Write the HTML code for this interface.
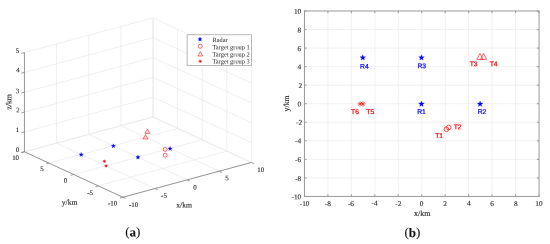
<!DOCTYPE html>
<html><head><meta charset="utf-8"><title>Figure</title><style>html,body{margin:0;padding:0;background:#fff;width:550px;height:244px;overflow:hidden;}svg{display:block;}</style></head>
<body>
<svg width="550" height="244" viewBox="0 0 550 244">
<line x1="122.85" y1="197.22" x2="24.45" y2="151.78" stroke="#e8e8e8" stroke-width="0.7"/>
<line x1="122.85" y1="197.22" x2="251.45" y2="162.47" stroke="#e8e8e8" stroke-width="0.7"/>
<line x1="155.00" y1="188.54" x2="56.60" y2="143.09" stroke="#e8e8e8" stroke-width="0.7"/>
<line x1="98.25" y1="185.86" x2="226.85" y2="151.11" stroke="#e8e8e8" stroke-width="0.7"/>
<line x1="187.15" y1="179.85" x2="88.75" y2="134.40" stroke="#e8e8e8" stroke-width="0.7"/>
<line x1="73.65" y1="174.50" x2="202.25" y2="139.75" stroke="#e8e8e8" stroke-width="0.7"/>
<line x1="219.30" y1="171.16" x2="120.90" y2="125.71" stroke="#e8e8e8" stroke-width="0.7"/>
<line x1="49.05" y1="163.14" x2="177.65" y2="128.39" stroke="#e8e8e8" stroke-width="0.7"/>
<line x1="251.45" y1="162.47" x2="153.05" y2="117.03" stroke="#e8e8e8" stroke-width="0.7"/>
<line x1="24.45" y1="151.78" x2="153.05" y2="117.03" stroke="#e8e8e8" stroke-width="0.7"/>
<line x1="24.45" y1="151.78" x2="24.45" y2="52.58" stroke="#e8e8e8" stroke-width="0.7"/>
<line x1="56.60" y1="143.09" x2="56.60" y2="43.89" stroke="#e8e8e8" stroke-width="0.7"/>
<line x1="88.75" y1="134.40" x2="88.75" y2="35.20" stroke="#e8e8e8" stroke-width="0.7"/>
<line x1="120.90" y1="125.71" x2="120.90" y2="26.51" stroke="#e8e8e8" stroke-width="0.7"/>
<line x1="153.05" y1="117.03" x2="153.05" y2="17.83" stroke="#e8e8e8" stroke-width="0.7"/>
<line x1="24.45" y1="151.78" x2="153.05" y2="117.03" stroke="#e8e8e8" stroke-width="0.7"/>
<line x1="24.45" y1="131.94" x2="153.05" y2="97.19" stroke="#e8e8e8" stroke-width="0.7"/>
<line x1="24.45" y1="112.09" x2="153.05" y2="77.34" stroke="#e8e8e8" stroke-width="0.7"/>
<line x1="24.45" y1="92.26" x2="153.05" y2="57.51" stroke="#e8e8e8" stroke-width="0.7"/>
<line x1="24.45" y1="72.42" x2="153.05" y2="37.67" stroke="#e8e8e8" stroke-width="0.7"/>
<line x1="24.45" y1="52.58" x2="153.05" y2="17.83" stroke="#e8e8e8" stroke-width="0.7"/>
<line x1="251.45" y1="162.47" x2="251.45" y2="63.27" stroke="#e8e8e8" stroke-width="0.7"/>
<line x1="226.85" y1="151.11" x2="226.85" y2="51.91" stroke="#e8e8e8" stroke-width="0.7"/>
<line x1="202.25" y1="139.75" x2="202.25" y2="40.55" stroke="#e8e8e8" stroke-width="0.7"/>
<line x1="177.65" y1="128.39" x2="177.65" y2="29.19" stroke="#e8e8e8" stroke-width="0.7"/>
<line x1="153.05" y1="117.03" x2="153.05" y2="17.83" stroke="#e8e8e8" stroke-width="0.7"/>
<line x1="251.45" y1="162.47" x2="153.05" y2="117.03" stroke="#e8e8e8" stroke-width="0.7"/>
<line x1="251.45" y1="142.63" x2="153.05" y2="97.19" stroke="#e8e8e8" stroke-width="0.7"/>
<line x1="251.45" y1="122.79" x2="153.05" y2="77.34" stroke="#e8e8e8" stroke-width="0.7"/>
<line x1="251.45" y1="102.95" x2="153.05" y2="57.51" stroke="#e8e8e8" stroke-width="0.7"/>
<line x1="251.45" y1="83.11" x2="153.05" y2="37.67" stroke="#e8e8e8" stroke-width="0.7"/>
<line x1="251.45" y1="63.27" x2="153.05" y2="17.83" stroke="#e8e8e8" stroke-width="0.7"/>
<line x1="24.45" y1="151.78" x2="24.45" y2="52.58" stroke="#808080" stroke-width="0.8"/>
<line x1="122.85" y1="197.22" x2="24.45" y2="151.78" stroke="#808080" stroke-width="0.8"/>
<line x1="122.85" y1="197.22" x2="251.45" y2="162.47" stroke="#808080" stroke-width="0.8"/>
<line x1="24.45" y1="151.78" x2="21.36" y2="152.61" stroke="#808080" stroke-width="0.8"/>
<line x1="24.45" y1="131.94" x2="21.36" y2="132.77" stroke="#808080" stroke-width="0.8"/>
<line x1="24.45" y1="112.09" x2="21.36" y2="112.93" stroke="#808080" stroke-width="0.8"/>
<line x1="24.45" y1="92.26" x2="21.36" y2="93.09" stroke="#808080" stroke-width="0.8"/>
<line x1="24.45" y1="72.42" x2="21.36" y2="73.25" stroke="#808080" stroke-width="0.8"/>
<line x1="24.45" y1="52.58" x2="21.36" y2="53.41" stroke="#808080" stroke-width="0.8"/>
<line x1="122.85" y1="197.22" x2="119.96" y2="198.01" stroke="#808080" stroke-width="0.8"/>
<line x1="122.85" y1="197.22" x2="125.56" y2="198.47" stroke="#808080" stroke-width="0.8"/>
<line x1="98.25" y1="185.86" x2="95.36" y2="186.64" stroke="#808080" stroke-width="0.8"/>
<line x1="155.00" y1="188.54" x2="157.71" y2="189.79" stroke="#808080" stroke-width="0.8"/>
<line x1="73.65" y1="174.50" x2="70.76" y2="175.28" stroke="#808080" stroke-width="0.8"/>
<line x1="187.15" y1="179.85" x2="189.86" y2="181.10" stroke="#808080" stroke-width="0.8"/>
<line x1="49.05" y1="163.14" x2="46.16" y2="163.92" stroke="#808080" stroke-width="0.8"/>
<line x1="219.30" y1="171.16" x2="222.01" y2="172.41" stroke="#808080" stroke-width="0.8"/>
<line x1="24.45" y1="151.78" x2="21.56" y2="152.56" stroke="#808080" stroke-width="0.8"/>
<line x1="251.45" y1="162.47" x2="254.16" y2="163.72" stroke="#808080" stroke-width="0.8"/>
<polygon points="137.95,155.12 138.49,156.58 140.04,156.65 138.83,157.61 139.24,159.10 137.95,158.25 136.66,159.10 137.07,157.61 135.86,156.65 137.41,156.58" fill="#0000ff" stroke="#0000ff" stroke-width="0.3"/>
<polygon points="170.10,146.44 170.64,147.89 172.19,147.96 170.98,148.92 171.39,150.42 170.10,149.56 168.81,150.42 169.22,148.92 168.01,147.96 169.56,147.89" fill="#0000ff" stroke="#0000ff" stroke-width="0.3"/>
<polygon points="113.35,143.76 113.89,145.21 115.44,145.28 114.23,146.25 114.64,147.74 113.35,146.89 112.06,147.74 112.47,146.25 111.26,145.28 112.81,145.21" fill="#0000ff" stroke="#0000ff" stroke-width="0.3"/>
<polygon points="81.20,152.45 81.74,153.90 83.29,153.97 82.08,154.94 82.49,156.43 81.20,155.57 79.91,156.43 80.32,154.94 79.11,153.97 80.66,153.90" fill="#0000ff" stroke="#0000ff" stroke-width="0.3"/>
<circle cx="165.20" cy="149.40" r="2.0" fill="none" stroke="#ff0000" stroke-width="0.6"/>
<circle cx="165.20" cy="155.20" r="2.0" fill="none" stroke="#ff0000" stroke-width="0.6"/>
<polygon points="147.40,129.05 149.80,133.35 145.00,133.35" fill="none" stroke="#ff0000" stroke-width="0.6"/>
<polygon points="145.50,134.65 147.90,138.95 143.10,138.95" fill="none" stroke="#ff0000" stroke-width="0.6"/>
<line x1="102.80" y1="161.30" x2="106.00" y2="161.30" stroke="#ff0000" stroke-width="0.7"/>
<line x1="103.27" y1="160.17" x2="105.53" y2="162.43" stroke="#ff0000" stroke-width="0.7"/>
<line x1="104.40" y1="159.70" x2="104.40" y2="162.90" stroke="#ff0000" stroke-width="0.7"/>
<line x1="105.53" y1="160.17" x2="103.27" y2="162.43" stroke="#ff0000" stroke-width="0.7"/>
<line x1="104.50" y1="165.90" x2="107.70" y2="165.90" stroke="#ff0000" stroke-width="0.7"/>
<line x1="104.97" y1="164.77" x2="107.23" y2="167.03" stroke="#ff0000" stroke-width="0.7"/>
<line x1="106.10" y1="164.30" x2="106.10" y2="167.50" stroke="#ff0000" stroke-width="0.7"/>
<line x1="107.23" y1="164.77" x2="104.97" y2="167.03" stroke="#ff0000" stroke-width="0.7"/>
<rect x="187.1" y="34.8" width="64.4" height="30.8" fill="#fff" stroke="#999" stroke-width="0.7"/>
<polygon points="200.00,37.10 200.54,38.55 202.09,38.62 200.88,39.59 201.29,41.08 200.00,40.22 198.71,41.08 199.12,39.59 197.91,38.62 199.46,38.55" fill="#0000ff" stroke="#0000ff" stroke-width="0.3"/>
<circle cx="200.30" cy="46.30" r="2.0" fill="none" stroke="#ff0000" stroke-width="0.6"/>
<polygon points="200.30,51.65 202.70,55.95 197.90,55.95" fill="none" stroke="#ff0000" stroke-width="0.6"/>
<line x1="198.70" y1="61.30" x2="201.90" y2="61.30" stroke="#ff0000" stroke-width="0.7"/>
<line x1="199.17" y1="60.17" x2="201.43" y2="62.43" stroke="#ff0000" stroke-width="0.7"/>
<line x1="200.30" y1="59.70" x2="200.30" y2="62.90" stroke="#ff0000" stroke-width="0.7"/>
<line x1="201.43" y1="60.17" x2="199.17" y2="62.43" stroke="#ff0000" stroke-width="0.7"/>
<line x1="327.91" y1="196.45" x2="327.91" y2="11.00" stroke="#ebebeb" stroke-width="0.7"/>
<line x1="304.45" y1="177.90" x2="539.05" y2="177.90" stroke="#ebebeb" stroke-width="0.7"/>
<line x1="351.37" y1="196.45" x2="351.37" y2="11.00" stroke="#ebebeb" stroke-width="0.7"/>
<line x1="304.45" y1="159.36" x2="539.05" y2="159.36" stroke="#ebebeb" stroke-width="0.7"/>
<line x1="374.83" y1="196.45" x2="374.83" y2="11.00" stroke="#ebebeb" stroke-width="0.7"/>
<line x1="304.45" y1="140.81" x2="539.05" y2="140.81" stroke="#ebebeb" stroke-width="0.7"/>
<line x1="398.29" y1="196.45" x2="398.29" y2="11.00" stroke="#ebebeb" stroke-width="0.7"/>
<line x1="304.45" y1="122.27" x2="539.05" y2="122.27" stroke="#ebebeb" stroke-width="0.7"/>
<line x1="421.75" y1="196.45" x2="421.75" y2="11.00" stroke="#ebebeb" stroke-width="0.7"/>
<line x1="304.45" y1="103.72" x2="539.05" y2="103.72" stroke="#ebebeb" stroke-width="0.7"/>
<line x1="445.21" y1="196.45" x2="445.21" y2="11.00" stroke="#ebebeb" stroke-width="0.7"/>
<line x1="304.45" y1="85.18" x2="539.05" y2="85.18" stroke="#ebebeb" stroke-width="0.7"/>
<line x1="468.67" y1="196.45" x2="468.67" y2="11.00" stroke="#ebebeb" stroke-width="0.7"/>
<line x1="304.45" y1="66.63" x2="539.05" y2="66.63" stroke="#ebebeb" stroke-width="0.7"/>
<line x1="492.13" y1="196.45" x2="492.13" y2="11.00" stroke="#ebebeb" stroke-width="0.7"/>
<line x1="304.45" y1="48.09" x2="539.05" y2="48.09" stroke="#ebebeb" stroke-width="0.7"/>
<line x1="515.59" y1="196.45" x2="515.59" y2="11.00" stroke="#ebebeb" stroke-width="0.7"/>
<line x1="304.45" y1="29.54" x2="539.05" y2="29.54" stroke="#ebebeb" stroke-width="0.7"/>
<rect x="304.45" y="11.0" width="234.60" height="185.45" fill="none" stroke="#9a9a9a" stroke-width="1"/>
<line x1="304.45" y1="196.45" x2="304.45" y2="194.25" stroke="#9a9a9a" stroke-width="1"/>
<line x1="304.45" y1="11.00" x2="304.45" y2="13.20" stroke="#9a9a9a" stroke-width="1"/>
<line x1="304.45" y1="196.45" x2="306.65" y2="196.45" stroke="#9a9a9a" stroke-width="1"/>
<line x1="539.05" y1="196.45" x2="536.85" y2="196.45" stroke="#9a9a9a" stroke-width="1"/>
<line x1="327.91" y1="196.45" x2="327.91" y2="194.25" stroke="#9a9a9a" stroke-width="1"/>
<line x1="327.91" y1="11.00" x2="327.91" y2="13.20" stroke="#9a9a9a" stroke-width="1"/>
<line x1="304.45" y1="177.90" x2="306.65" y2="177.90" stroke="#9a9a9a" stroke-width="1"/>
<line x1="539.05" y1="177.90" x2="536.85" y2="177.90" stroke="#9a9a9a" stroke-width="1"/>
<line x1="351.37" y1="196.45" x2="351.37" y2="194.25" stroke="#9a9a9a" stroke-width="1"/>
<line x1="351.37" y1="11.00" x2="351.37" y2="13.20" stroke="#9a9a9a" stroke-width="1"/>
<line x1="304.45" y1="159.36" x2="306.65" y2="159.36" stroke="#9a9a9a" stroke-width="1"/>
<line x1="539.05" y1="159.36" x2="536.85" y2="159.36" stroke="#9a9a9a" stroke-width="1"/>
<line x1="374.83" y1="196.45" x2="374.83" y2="194.25" stroke="#9a9a9a" stroke-width="1"/>
<line x1="374.83" y1="11.00" x2="374.83" y2="13.20" stroke="#9a9a9a" stroke-width="1"/>
<line x1="304.45" y1="140.81" x2="306.65" y2="140.81" stroke="#9a9a9a" stroke-width="1"/>
<line x1="539.05" y1="140.81" x2="536.85" y2="140.81" stroke="#9a9a9a" stroke-width="1"/>
<line x1="398.29" y1="196.45" x2="398.29" y2="194.25" stroke="#9a9a9a" stroke-width="1"/>
<line x1="398.29" y1="11.00" x2="398.29" y2="13.20" stroke="#9a9a9a" stroke-width="1"/>
<line x1="304.45" y1="122.27" x2="306.65" y2="122.27" stroke="#9a9a9a" stroke-width="1"/>
<line x1="539.05" y1="122.27" x2="536.85" y2="122.27" stroke="#9a9a9a" stroke-width="1"/>
<line x1="421.75" y1="196.45" x2="421.75" y2="194.25" stroke="#9a9a9a" stroke-width="1"/>
<line x1="421.75" y1="11.00" x2="421.75" y2="13.20" stroke="#9a9a9a" stroke-width="1"/>
<line x1="304.45" y1="103.72" x2="306.65" y2="103.72" stroke="#9a9a9a" stroke-width="1"/>
<line x1="539.05" y1="103.72" x2="536.85" y2="103.72" stroke="#9a9a9a" stroke-width="1"/>
<line x1="445.21" y1="196.45" x2="445.21" y2="194.25" stroke="#9a9a9a" stroke-width="1"/>
<line x1="445.21" y1="11.00" x2="445.21" y2="13.20" stroke="#9a9a9a" stroke-width="1"/>
<line x1="304.45" y1="85.18" x2="306.65" y2="85.18" stroke="#9a9a9a" stroke-width="1"/>
<line x1="539.05" y1="85.18" x2="536.85" y2="85.18" stroke="#9a9a9a" stroke-width="1"/>
<line x1="468.67" y1="196.45" x2="468.67" y2="194.25" stroke="#9a9a9a" stroke-width="1"/>
<line x1="468.67" y1="11.00" x2="468.67" y2="13.20" stroke="#9a9a9a" stroke-width="1"/>
<line x1="304.45" y1="66.63" x2="306.65" y2="66.63" stroke="#9a9a9a" stroke-width="1"/>
<line x1="539.05" y1="66.63" x2="536.85" y2="66.63" stroke="#9a9a9a" stroke-width="1"/>
<line x1="492.13" y1="196.45" x2="492.13" y2="194.25" stroke="#9a9a9a" stroke-width="1"/>
<line x1="492.13" y1="11.00" x2="492.13" y2="13.20" stroke="#9a9a9a" stroke-width="1"/>
<line x1="304.45" y1="48.09" x2="306.65" y2="48.09" stroke="#9a9a9a" stroke-width="1"/>
<line x1="539.05" y1="48.09" x2="536.85" y2="48.09" stroke="#9a9a9a" stroke-width="1"/>
<line x1="515.59" y1="196.45" x2="515.59" y2="194.25" stroke="#9a9a9a" stroke-width="1"/>
<line x1="515.59" y1="11.00" x2="515.59" y2="13.20" stroke="#9a9a9a" stroke-width="1"/>
<line x1="304.45" y1="29.54" x2="306.65" y2="29.54" stroke="#9a9a9a" stroke-width="1"/>
<line x1="539.05" y1="29.54" x2="536.85" y2="29.54" stroke="#9a9a9a" stroke-width="1"/>
<line x1="539.05" y1="196.45" x2="539.05" y2="194.25" stroke="#9a9a9a" stroke-width="1"/>
<line x1="539.05" y1="11.00" x2="539.05" y2="13.20" stroke="#9a9a9a" stroke-width="1"/>
<line x1="304.45" y1="11.00" x2="306.65" y2="11.00" stroke="#9a9a9a" stroke-width="1"/>
<line x1="539.05" y1="11.00" x2="536.85" y2="11.00" stroke="#9a9a9a" stroke-width="1"/>
<polygon points="421.45,101.07 422.18,103.02 424.26,103.11 422.63,104.41 423.18,106.41 421.45,105.26 419.72,106.41 420.27,104.41 418.64,103.11 420.72,103.02" fill="#0000ff" stroke="#0000ff" stroke-width="0.3"/>
<polygon points="480.10,101.07 480.83,103.02 482.91,103.11 481.28,104.41 481.83,106.41 480.10,105.26 478.37,106.41 478.92,104.41 477.29,103.11 479.37,103.02" fill="#0000ff" stroke="#0000ff" stroke-width="0.3"/>
<polygon points="421.45,54.71 422.18,56.66 424.26,56.75 422.63,58.05 423.18,60.05 421.45,58.90 419.72,60.05 420.27,58.05 418.64,56.75 420.72,56.66" fill="#0000ff" stroke="#0000ff" stroke-width="0.3"/>
<polygon points="362.80,54.71 363.53,56.66 365.61,56.75 363.98,58.05 364.53,60.05 362.80,58.90 361.07,60.05 361.62,58.05 359.99,56.75 362.07,56.66" fill="#0000ff" stroke="#0000ff" stroke-width="0.3"/>
<circle cx="446.40" cy="129.30" r="2.3" fill="none" stroke="#ff0000" stroke-width="0.7"/>
<circle cx="448.70" cy="127.50" r="2.3" fill="none" stroke="#ff0000" stroke-width="0.7"/>
<polygon points="480.00,53.40 483.10,59.40 476.90,59.40" fill="none" stroke="#ff0000" stroke-width="0.6"/>
<polygon points="483.60,53.40 486.70,59.40 480.50,59.40" fill="none" stroke="#ff0000" stroke-width="0.6"/>
<line x1="357.50" y1="103.90" x2="362.70" y2="103.90" stroke="#ff0000" stroke-width="0.55"/>
<line x1="358.26" y1="102.06" x2="361.94" y2="105.74" stroke="#ff0000" stroke-width="0.55"/>
<line x1="360.10" y1="101.30" x2="360.10" y2="106.50" stroke="#ff0000" stroke-width="0.55"/>
<line x1="361.94" y1="102.06" x2="358.26" y2="105.74" stroke="#ff0000" stroke-width="0.55"/>
<line x1="360.40" y1="103.90" x2="365.60" y2="103.90" stroke="#ff0000" stroke-width="0.55"/>
<line x1="361.16" y1="102.06" x2="364.84" y2="105.74" stroke="#ff0000" stroke-width="0.55"/>
<line x1="363.00" y1="101.30" x2="363.00" y2="106.50" stroke="#ff0000" stroke-width="0.55"/>
<line x1="364.84" y1="102.06" x2="361.16" y2="105.74" stroke="#ff0000" stroke-width="0.55"/>
<text id="t0" x="17.40" y="149.60" font-size="6.9" fill="#262626" stroke="#262626" stroke-width="0.12" text-anchor="middle" dominant-baseline="central" font-family="Liberation Serif, serif" transform="rotate(0.05 17.40 149.60)">0</text>
<text id="t1" x="17.40" y="129.50" font-size="6.9" fill="#262626" stroke="#262626" stroke-width="0.12" text-anchor="middle" dominant-baseline="central" font-family="Liberation Serif, serif" transform="rotate(0.05 17.40 129.50)">1</text>
<text id="t2" x="17.90" y="109.80" font-size="6.9" fill="#262626" stroke="#262626" stroke-width="0.12" text-anchor="middle" dominant-baseline="central" font-family="Liberation Serif, serif" transform="rotate(0.05 17.90 109.80)">2</text>
<text id="t3" x="17.40" y="90.80" font-size="6.9" fill="#262626" stroke="#262626" stroke-width="0.12" text-anchor="middle" dominant-baseline="central" font-family="Liberation Serif, serif" transform="rotate(0.05 17.40 90.80)">3</text>
<text id="t4" x="17.90" y="69.80" font-size="6.9" fill="#262626" stroke="#262626" stroke-width="0.12" text-anchor="middle" dominant-baseline="central" font-family="Liberation Serif, serif" transform="rotate(0.05 17.90 69.80)">4</text>
<text id="t5" x="17.40" y="50.30" font-size="6.9" fill="#262626" stroke="#262626" stroke-width="0.12" text-anchor="middle" dominant-baseline="central" font-family="Liberation Serif, serif" transform="rotate(0.05 17.40 50.30)">5</text>
<text id="t6" x="15.60" y="157.60" font-size="6.9" fill="#262626" stroke="#262626" stroke-width="0.12" text-anchor="middle" dominant-baseline="central" font-family="Liberation Serif, serif" transform="rotate(0.05 15.60 157.60)">10</text>
<text id="t7" x="42.00" y="168.40" font-size="6.9" fill="#262626" stroke="#262626" stroke-width="0.12" text-anchor="middle" dominant-baseline="central" font-family="Liberation Serif, serif" transform="rotate(0.05 42.00 168.40)">5</text>
<text id="t8" x="65.50" y="180.20" font-size="6.9" fill="#262626" stroke="#262626" stroke-width="0.12" text-anchor="middle" dominant-baseline="central" font-family="Liberation Serif, serif" transform="rotate(0.05 65.50 180.20)">0</text>
<text id="t9" x="90.10" y="192.50" font-size="6.9" fill="#262626" stroke="#262626" stroke-width="0.12" text-anchor="middle" dominant-baseline="central" font-family="Liberation Serif, serif" transform="rotate(0.05 90.10 192.50)">-5</text>
<text id="t10" x="112.50" y="202.90" font-size="6.9" fill="#262626" stroke="#262626" stroke-width="0.12" text-anchor="middle" dominant-baseline="central" font-family="Liberation Serif, serif" transform="rotate(0.05 112.50 202.90)">-10</text>
<text id="t11" x="133.50" y="204.50" font-size="6.9" fill="#262626" stroke="#262626" stroke-width="0.12" text-anchor="middle" dominant-baseline="central" font-family="Liberation Serif, serif" transform="rotate(0.05 133.50 204.50)">-10</text>
<text id="t12" x="164.00" y="195.30" font-size="6.9" fill="#262626" stroke="#262626" stroke-width="0.12" text-anchor="middle" dominant-baseline="central" font-family="Liberation Serif, serif" transform="rotate(0.05 164.00 195.30)">-5</text>
<text id="t13" x="194.90" y="186.90" font-size="6.9" fill="#262626" stroke="#262626" stroke-width="0.12" text-anchor="middle" dominant-baseline="central" font-family="Liberation Serif, serif" transform="rotate(0.05 194.90 186.90)">0</text>
<text id="t14" x="227.00" y="177.70" font-size="6.9" fill="#262626" stroke="#262626" stroke-width="0.12" text-anchor="middle" dominant-baseline="central" font-family="Liberation Serif, serif" transform="rotate(0.05 227.00 177.70)">5</text>
<text id="t15" x="260.80" y="169.50" font-size="6.9" fill="#262626" stroke="#262626" stroke-width="0.12" text-anchor="middle" dominant-baseline="central" font-family="Liberation Serif, serif" transform="rotate(0.05 260.80 169.50)">10</text>
<text id="t16" x="69.70" y="202.30" font-size="7.7" fill="#262626" stroke="#262626" stroke-width="0.12" text-anchor="middle" dominant-baseline="central" font-family="Liberation Serif, serif" transform="rotate(0.05 69.70 202.30)">y/km</text>
<text id="t17" x="184.20" y="205.00" font-size="7.7" fill="#262626" stroke="#262626" stroke-width="0.12" text-anchor="middle" dominant-baseline="central" font-family="Liberation Serif, serif" transform="rotate(0.05 184.20 205.00)">x/km</text>
<text id="t18" x="8.80" y="101.90" font-size="7.7" fill="#262626" stroke="#262626" stroke-width="0.12" text-anchor="middle" dominant-baseline="central" font-family="Liberation Serif, serif" transform="rotate(-89.95 8.80 101.90)">z/km</text>
<text id="t19" x="301.20" y="196.80" font-size="7.3" fill="#262626" stroke="#262626" stroke-width="0.12" text-anchor="end" dominant-baseline="central" font-family="Liberation Serif, serif" transform="rotate(0.05 301.20 196.80)">-10</text>
<text id="t20" x="304.60" y="203.60" font-size="7.3" fill="#262626" stroke="#262626" stroke-width="0.12" text-anchor="middle" dominant-baseline="central" font-family="Liberation Serif, serif" transform="rotate(0.05 304.60 203.60)">-10</text>
<text id="t21" x="301.20" y="178.40" font-size="7.3" fill="#262626" stroke="#262626" stroke-width="0.12" text-anchor="end" dominant-baseline="central" font-family="Liberation Serif, serif" transform="rotate(0.05 301.20 178.40)">-8</text>
<text id="t22" x="327.78" y="203.60" font-size="7.3" fill="#262626" stroke="#262626" stroke-width="0.12" text-anchor="middle" dominant-baseline="central" font-family="Liberation Serif, serif" transform="rotate(0.05 327.78 203.60)">-8</text>
<text id="t23" x="301.20" y="159.58" font-size="7.3" fill="#262626" stroke="#262626" stroke-width="0.12" text-anchor="end" dominant-baseline="central" font-family="Liberation Serif, serif" transform="rotate(0.05 301.20 159.58)">-6</text>
<text id="t24" x="350.96" y="203.60" font-size="7.3" fill="#262626" stroke="#262626" stroke-width="0.12" text-anchor="middle" dominant-baseline="central" font-family="Liberation Serif, serif" transform="rotate(0.05 350.96 203.60)">-6</text>
<text id="t25" x="301.20" y="140.75" font-size="7.3" fill="#262626" stroke="#262626" stroke-width="0.12" text-anchor="end" dominant-baseline="central" font-family="Liberation Serif, serif" transform="rotate(0.05 301.20 140.75)">-4</text>
<text id="t26" x="374.64" y="203.10" font-size="7.3" fill="#262626" stroke="#262626" stroke-width="0.12" text-anchor="middle" dominant-baseline="central" font-family="Liberation Serif, serif" transform="rotate(0.05 374.64 203.10)">-4</text>
<text id="t27" x="302.20" y="122.36" font-size="7.3" fill="#262626" stroke="#262626" stroke-width="0.12" text-anchor="end" dominant-baseline="central" font-family="Liberation Serif, serif" transform="rotate(0.05 302.20 122.36)">-2</text>
<text id="t28" x="398.32" y="203.60" font-size="7.3" fill="#262626" stroke="#262626" stroke-width="0.12" text-anchor="middle" dominant-baseline="central" font-family="Liberation Serif, serif" transform="rotate(0.05 398.32 203.60)">-2</text>
<text id="t29" x="301.20" y="103.97" font-size="7.3" fill="#262626" stroke="#262626" stroke-width="0.12" text-anchor="end" dominant-baseline="central" font-family="Liberation Serif, serif" transform="rotate(0.05 301.20 103.97)">0</text>
<text id="t30" x="421.50" y="203.60" font-size="7.3" fill="#262626" stroke="#262626" stroke-width="0.12" text-anchor="middle" dominant-baseline="central" font-family="Liberation Serif, serif" transform="rotate(0.05 421.50 203.60)">0</text>
<text id="t31" x="302.20" y="85.64" font-size="7.3" fill="#262626" stroke="#262626" stroke-width="0.12" text-anchor="end" dominant-baseline="central" font-family="Liberation Serif, serif" transform="rotate(0.05 302.20 85.64)">2</text>
<text id="t32" x="445.18" y="203.60" font-size="7.3" fill="#262626" stroke="#262626" stroke-width="0.12" text-anchor="middle" dominant-baseline="central" font-family="Liberation Serif, serif" transform="rotate(0.05 445.18 203.60)">2</text>
<text id="t33" x="301.20" y="66.74" font-size="7.3" fill="#262626" stroke="#262626" stroke-width="0.12" text-anchor="end" dominant-baseline="central" font-family="Liberation Serif, serif" transform="rotate(0.05 301.20 66.74)">4</text>
<text id="t34" x="468.86" y="203.10" font-size="7.3" fill="#262626" stroke="#262626" stroke-width="0.12" text-anchor="middle" dominant-baseline="central" font-family="Liberation Serif, serif" transform="rotate(0.05 468.86 203.10)">4</text>
<text id="t35" x="301.20" y="48.42" font-size="7.3" fill="#262626" stroke="#262626" stroke-width="0.12" text-anchor="end" dominant-baseline="central" font-family="Liberation Serif, serif" transform="rotate(0.05 301.20 48.42)">6</text>
<text id="t36" x="492.04" y="203.60" font-size="7.3" fill="#262626" stroke="#262626" stroke-width="0.12" text-anchor="middle" dominant-baseline="central" font-family="Liberation Serif, serif" transform="rotate(0.05 492.04 203.60)">6</text>
<text id="t37" x="301.20" y="30.02" font-size="7.3" fill="#262626" stroke="#262626" stroke-width="0.12" text-anchor="end" dominant-baseline="central" font-family="Liberation Serif, serif" transform="rotate(0.05 301.20 30.02)">8</text>
<text id="t38" x="515.72" y="203.60" font-size="7.3" fill="#262626" stroke="#262626" stroke-width="0.12" text-anchor="middle" dominant-baseline="central" font-family="Liberation Serif, serif" transform="rotate(0.05 515.72 203.60)">8</text>
<text id="t39" x="301.20" y="11.20" font-size="7.3" fill="#262626" stroke="#262626" stroke-width="0.12" text-anchor="end" dominant-baseline="central" font-family="Liberation Serif, serif" transform="rotate(0.05 301.20 11.20)">10</text>
<text id="t40" x="538.90" y="203.60" font-size="7.3" fill="#262626" stroke="#262626" stroke-width="0.12" text-anchor="middle" dominant-baseline="central" font-family="Liberation Serif, serif" transform="rotate(0.05 538.90 203.60)">10</text>
<text id="t41" x="422.20" y="213.40" font-size="8.0" fill="#262626" stroke="#262626" stroke-width="0.12" text-anchor="middle" dominant-baseline="central" font-family="Liberation Serif, serif" transform="rotate(0.05 422.20 213.40)">x/km</text>
<text id="t42" x="286.40" y="103.40" font-size="7.8" fill="#262626" stroke="#262626" stroke-width="0.12" text-anchor="middle" dominant-baseline="central" font-family="Liberation Serif, serif" transform="rotate(-89.95 286.40 103.40)">y/km</text>
<text id="t43" x="421.50" y="111.40" font-size="6.8" fill="#0000ff" stroke="#0000ff" stroke-width="0.22" text-anchor="middle" dominant-baseline="central" font-family="Liberation Sans, sans-serif" transform="rotate(0.05 421.50 111.40)">R1</text>
<text id="t44" x="482.00" y="111.40" font-size="6.8" fill="#0000ff" stroke="#0000ff" stroke-width="0.22" text-anchor="middle" dominant-baseline="central" font-family="Liberation Sans, sans-serif" transform="rotate(0.05 482.00 111.40)">R2</text>
<text id="t45" x="421.80" y="65.70" font-size="6.8" fill="#0000ff" stroke="#0000ff" stroke-width="0.22" text-anchor="middle" dominant-baseline="central" font-family="Liberation Sans, sans-serif" transform="rotate(0.05 421.80 65.70)">R3</text>
<text id="t46" x="364.40" y="66.20" font-size="6.8" fill="#0000ff" stroke="#0000ff" stroke-width="0.22" text-anchor="middle" dominant-baseline="central" font-family="Liberation Sans, sans-serif" transform="rotate(0.05 364.40 66.20)">R4</text>
<text id="t47" x="439.20" y="135.40" font-size="6.8" fill="#ff0000" stroke="#ff0000" stroke-width="0.22" text-anchor="middle" dominant-baseline="central" font-family="Liberation Sans, sans-serif" transform="rotate(0.05 439.20 135.40)">T1</text>
<text id="t48" x="457.70" y="126.80" font-size="6.8" fill="#ff0000" stroke="#ff0000" stroke-width="0.22" text-anchor="middle" dominant-baseline="central" font-family="Liberation Sans, sans-serif" transform="rotate(0.05 457.70 126.80)">T2</text>
<text id="t49" x="473.70" y="63.80" font-size="6.8" fill="#ff0000" stroke="#ff0000" stroke-width="0.22" text-anchor="middle" dominant-baseline="central" font-family="Liberation Sans, sans-serif" transform="rotate(0.05 473.70 63.80)">T3</text>
<text id="t50" x="493.70" y="63.80" font-size="6.8" fill="#ff0000" stroke="#ff0000" stroke-width="0.22" text-anchor="middle" dominant-baseline="central" font-family="Liberation Sans, sans-serif" transform="rotate(0.05 493.70 63.80)">T4</text>
<text id="t51" x="370.30" y="111.40" font-size="6.8" fill="#ff0000" stroke="#ff0000" stroke-width="0.22" text-anchor="middle" dominant-baseline="central" font-family="Liberation Sans, sans-serif" transform="rotate(0.05 370.30 111.40)">T5</text>
<text id="t52" x="355.00" y="111.40" font-size="6.8" fill="#ff0000" stroke="#ff0000" stroke-width="0.22" text-anchor="middle" dominant-baseline="central" font-family="Liberation Sans, sans-serif" transform="rotate(0.05 355.00 111.40)">T6</text>
<text id="t53" x="132.80" y="231.60" font-size="13.0" fill="#111" stroke="#111" stroke-width="0.1" text-anchor="middle" dominant-baseline="central" font-family="Liberation Serif, serif" transform="rotate(0.05 132.80 231.60)">(<tspan font-weight="bold">a</tspan>)</text>
<text id="t54" x="412.50" y="232.00" font-size="13.0" fill="#111" stroke="#111" stroke-width="0.1" text-anchor="middle" dominant-baseline="central" font-family="Liberation Serif, serif" transform="rotate(0.05 412.50 232.00)">(<tspan font-weight="bold">b</tspan>)</text>
<text id="t55" x="212.40" y="42.00" font-size="6.4" fill="#262626" text-anchor="start"  font-family="Liberation Serif, serif" transform="rotate(0.05 212.40 42.00)">Radar</text>
<text id="t56" x="212.40" y="49.20" font-size="6.4" fill="#262626" text-anchor="start"  font-family="Liberation Serif, serif" transform="rotate(0.05 212.40 49.20)">Target group 1</text>
<text id="t57" x="212.40" y="56.40" font-size="6.4" fill="#262626" text-anchor="start"  font-family="Liberation Serif, serif" transform="rotate(0.05 212.40 56.40)">Target group 2</text>
<text id="t58" x="212.40" y="63.60" font-size="6.4" fill="#262626" text-anchor="start"  font-family="Liberation Serif, serif" transform="rotate(0.05 212.40 63.60)">Target group 3</text>
</svg>
</body></html>
